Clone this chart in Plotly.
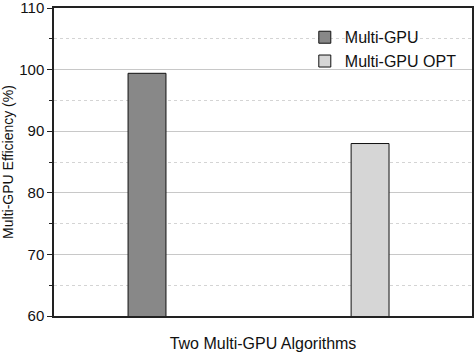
import plotly.graph_objects as go

categories = ["Multi-GPU", "Multi-GPU OPT"]
efficiency = [99.4, 88.0]
colors = ["#888888", "#d6d6d6"]
y_ticks = [60, 70, 80, 90, 100, 110]

fig = go.Figure()
for cat, val, col in zip(categories, efficiency, colors):
    fig.add_trace(go.Bar(
        x=[cat], y=[val], name=cat, width=0.17,
        marker=dict(color=col, line=dict(color="#111111", width=1)),
    ))

fig.update_layout(
    width=474, height=352,
    margin=dict(l=54, r=2, t=8, b=36),
    plot_bgcolor="white", paper_bgcolor="white",
    barmode="overlay",
    font=dict(family="Liberation Sans, Arial, sans-serif", color="#111111", size=15),
    legend=dict(x=0.6, y=0.96, xanchor="left", yanchor="top",
                font=dict(size=16), bgcolor="rgba(0,0,0,0)",
                tracegroupgap=0, itemwidth=30),
)
fig.update_xaxes(
    type="category", categoryorder="array", categoryarray=categories,
    range=[-0.417, 1.457], showticklabels=False, ticks="",
    showline=True, linecolor="#222222", linewidth=1.5, mirror=True,
    showgrid=False, automargin=False,
    title=dict(text="Two Multi-GPU Algorithms", font=dict(size=16), standoff=21),
)
fig.update_yaxes(
    range=[60, 110], tickvals=y_ticks, ticks="outside", ticklen=5,
    tickcolor="#222222", tickfont=dict(size=15), ticklabeloverflow="allow",
    showline=True, linecolor="#222222", linewidth=1.5, mirror=True,
    showgrid=True, gridcolor="#c8c8c8", gridwidth=1,
    minor=dict(dtick=5, showgrid=True, gridcolor="#d4d4d4", griddash="dot",
               ticks="outside", ticklen=3, tickcolor="#222222"),
    zeroline=False, automargin=False,
    title=dict(text="Multi-GPU Efficiency (%)", font=dict(size=14), standoff=4),
)
fig.write_html("out.html")
